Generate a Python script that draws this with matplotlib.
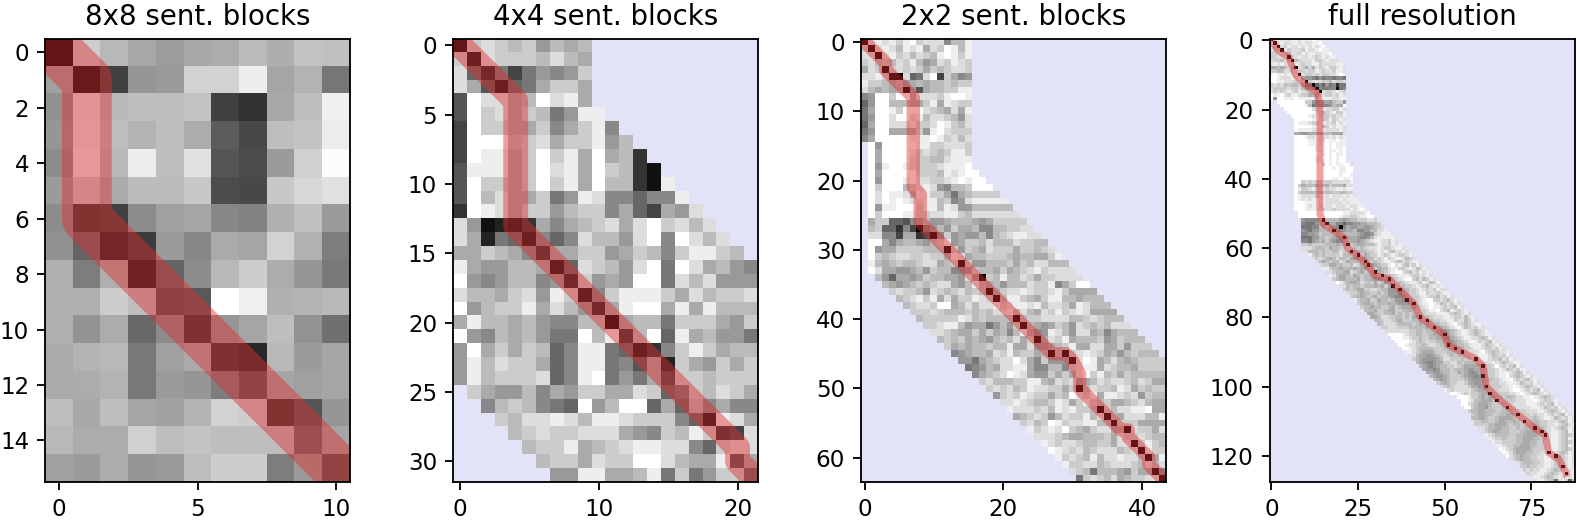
import matplotlib
matplotlib.use("Agg")
import matplotlib.pyplot as plt
import numpy as np

TITLES = ["8x8 sent. blocks", "4x4 sent. blocks", "2x2 sent. blocks", "full resolution"]
XTICKS = [[0, 5, 10], [0, 10, 20], [0, 20, 40], [0, 25, 50, 75]]
YTICKS = [list(range(0, 15, 2)), list(range(0, 31, 5)), list(range(0, 61, 10)), list(range(0, 121, 20))]

# grey level, 0 black .. 255 white
P1 = [
    [0, 205, 184, 168, 156, 168, 172, 187, 174, 196, 192],
    [160, 10, 64, 150, 155, 212, 210, 238, 165, 180, 118],
    [145, 230, 185, 190, 190, 195, 64, 50, 168, 190, 240],
    [150, 232, 190, 180, 190, 172, 92, 72, 190, 196, 236],
    [140, 240, 185, 238, 190, 226, 85, 76, 155, 208, 252],
    [155, 205, 170, 188, 188, 200, 76, 72, 200, 215, 224],
    [140, 55, 64, 140, 160, 165, 135, 130, 176, 192, 155],
    [145, 100, 30, 60, 155, 135, 170, 165, 210, 178, 125],
    [175, 125, 175, 25, 100, 140, 184, 205, 172, 150, 122],
    [176, 176, 205, 190, 80, 90, 255, 240, 176, 180, 184],
    [175, 148, 172, 104, 140, 50, 150, 165, 190, 146, 112],
    [170, 180, 184, 120, 160, 170, 50, 40, 184, 155, 165],
    [170, 172, 180, 120, 155, 150, 125, 85, 165, 160, 165],
    [190, 168, 190, 165, 162, 180, 210, 205, 55, 85, 150],
    [184, 172, 172, 208, 190, 195, 190, 190, 190, 105, 165],
    [160, 155, 172, 150, 155, 190, 205, 205, 125, 155, 85],
]

# darkness per cell in hex, 0 white .. f black, only the cells inside the search band
P2 = [
    "f323436454", "3e23334245", "29d8b86763", "25ae985335", "a022540215", "a0325348611",
    "b03355375317", "b000432533164", "b011530315054c", "a111530215034ce", "a033530315044ce1",
    "a04255386127797 71", "c01253364337 59b562", "26edec575432520 3242", "25d89e7972446207 02426",
    "55345 7c55336534 731134", "156644 5e9234620802 54675", "067644 76d365600824 2666",
    "244532613e731113 524332", "06433152 46d5100515 1444", "51445467744f5448333563",
    "0674546880 41c40915 4668", "60535349711 89ec7313 544", "61423359 7118 7a5d356353",
    "61433329710 8685b334 3333", "356647 5633 5523983 4235", "743478 9064009 59475 7",
    "3422124112 33379e125", "43233222 567 3413cb23", "433154321 12279 3 2", "4335233002 45 5 1a5", "661155418 3863 39",
]
P2_START = [0] * 25 + [1, 2, 3, 4, 5, 6, 7]
P2_STOP = [10, 10, 10, 10, 10, 11, 12, 13, 14, 15, 16, 17, 18, 19, 20, 21] + [22] * 16

P3_START = [0] * 15 + [1] * 19 + list(range(2, 32))
P3_STOP = [16] * 19 + list(range(17, 45)) + [44] * 17
P3 = [
    "f212131032227441", "3e21241215230141", "2232132423410131", "3243423146523123",
    "5234323235343223", "22134229820b3576", "1334546545443433", "24545566a5443311",
    "7600300522231001", "9600444553151233", "8500130002345251", "8600200214223462",
    "9500222133201342", "8600555536102333", "7500000111013242", "0600000113322232",
    "0500001323431132", "0500002334421112", "0610012333211101", "0500000333412100",
    "0600010223321010", "0300043212674430", "0201125113358543", "0201012211437621",
    "0611000311412664", "0300011332211342", "53399a764665444565333", "4399c7b9864635547744332",
    "2277b55cba736566474321122", "0057544564316533424442334410", "0655333344433634523335334321",
    "0343223323351254433345445531", "1454344322543336644435342244",
    "0255665463447763445354321322", "4695565344556264341442353322",
    "45654343225641454644423317530", "3233462343243435322123321355",
    "4321315253312324113453114454", "4322300542422132112142235124",
    "3332344434342214245231321255", "4333331243444454332222443234",
    "3321146558646354565346234342", "2234553535474157612462254754",
    "4343545643425345231544436534", "3545443441552665431552255363",
    "7654452314335474432123546434", "668543220257366642015424543",
    "87645221157744732115234453", "754320125663535203143534",
    "32444331145232654232234235", "3232431223353142334125343",
    "632312335340231511232634", "22123443125313435543245",
    "12223241213345342211055", "5432364233142145222441",
    "324301322114423335", "13212034532255423352",
    "222345544435233234", "1232234433522231345",
    "0123243222432213", "1323414221224451", "1332243222342421",
    "2348444563557", "8323425433221",
]
P3_COLS = [0, 1, 2, 3, 4, 5, 6, 8, 10, 12, 14, 17, 18, 19, 22, 23, 25, 27, 29, 30, 31, 34, 35, 36, 38, 39, 40, 41, 42, 43]
P3_ROWS = [0, 1, 2, 4, 5, 5, 7, 27, 28, 30, 32, 34, 36, 37, 40, 41, 43, 45, 45, 46, 50, 53, 54, 55, 56, 58, 59, 60, 62, 63]

P4_START = [0] * 18 + [2, 3, 4, 5, 6] + [7] * 27 + [8, 8] + [9] * 9 + list(range(10, 51)) + [
    52, 54, 55, 55, 56, 57, 58, 58, 59, 59, 60, 61, 62, 63, 64, 65, 66, 67, 68, 69, 71, 72, 73, 74, 75, 76]
P4_STOP = list(range(14, 23)) + [22] * 27 + [24] * 10 + list(range(25, 88)) + [88] * 19
P4 = [
    # rows 0-17
    "21121211211101", "122122112122110", "2322312212121210", "23331322231221011", "332234223121122110",
    "3322233212212321211", "23342344322213321222", "212122312322113222211", "5545424423535232133212",
    "3344223233233123223112", "1011212232332323322101", "0012221215667868778778", "0011222323332223342332",
    "3232434435888979687c88", "2333323324667878877e87", "2323212312333412332123", "0110231123354532332312",
    "0600111011111311112211",
    # rows 18-35
    "00000000336766564336", "0000000148777764550", "000000002321223312", "00000000234321331", "0000012133323221",
    "000001123313212", "011123321223121", "000001124312112", "011112221222212", "556655564445552",
    "000122122212121", "000011122011011", "000011121010111", "000000111010110", "000000121011010",
    "000000011010110", "000000110010100", "000000111010100",
    # rows 36-51
    "00000000301011002", "00000000000101100", "00000000000001100", "00000000000001001", "00000000000110110",
    "00323233233222221", "03544454453444522", "01332133132211211", "03444445344334433", "01222232121222121",
    "012121121222212111", "0001111212222212111", "00012113122122212211", "000111123223222212101",
    "000000000000011222210", "0000000000001223321100",
    # rows 52-60
    "6777755444456544333223", "78886556557797766554443", "888774535678756655665432", "6786644444676554776644221",
    "77665344445444445677632111", "888664434566555567764211111", "7786545356774455654321122312",
    "33433334445444345544431223121", "222344435443323434322212332112",
    # rows 61-101
    "244434334423344544332121342212", "134343333244344354331232123321", "232345424435655544232132112432",
    "245434423544444434321123423211", "233554433423555654331021342312", "113445444545644354421133212431",
    "223445523453456543210023423121", "124554354344554544321112332212", "345544453445665534321003424312",
    "013455423435346543432112312431", "224344344454535533433212342121", "343455332234466554433212323122",
    "233454433434666754332113223211", "344543453445677653332123342312", "134453354434667653321003323421",
    "345543444545666533211012432312", "344544334534555543210112323412", "444533455334454333211023412321",
    "554334453434344332221112343212", "554223344343554343222112332421", "443223453334454443322113224312",
    "432223444434545444332102343211", "332223334444454455432102432312", "222222233443444566543211234321",
    "000012334433455665432112343211", "000112334334455665432112234312", "000012343233445665432101323412",
    "001223343223445554432111243212", "001234444333444544332112332312", "112345554333444433222102343221",
    "224556654323434333221112432312", "345666654223334332221123342312", "456776553322434443322212343211",
    "456765443323455554433202323412", "566764443444566554433212432311", "556654433545676544332111234312",
    "456654333456676543321102343212", "456543333456665443321102323421", "345433223556654333221112432312",
    "234322223556543333221012343212", "123222223455433322210012323412",
    # rows 102-121
    "00123233455443333221012343212", "0001334545544344322110123432", "0012445554433333222110123321",
    "00234555433343322221112323412", "00345564333443322221112432312", "34455444334443333222112343212",
    "34554433445544333232212323412", "445543345555433333432112432312", "33443345544543334443322234312",
    "33334455543443344543322123421", "2234455443343444544321234312", "234554443334455544321123412",
    "12344443344555543321123432", "1233433344555443321123412", "122333344554433221123432",
    "11233445554433221123412", "0123455554333221123432", "012455544332211234312", "02345443322112343212",
    "2345443322112343212",
    # rows 122-127
    "23444332112343212", "3343322112343212", "323221123432121", "32211234321211", "2112343212121", "211234821393",
]
P4_COLS = [0, 1, 2, 3, 5, 6, 7, 8, 10, 12, 13, 14, 15, 16, 18, 20, 21, 22, 23, 25, 27, 28, 30, 32, 34, 35, 37, 39,
           41, 43, 45, 47, 50, 51, 53, 55, 59, 61, 61, 62, 63, 65, 68, 71, 73, 76, 78, 79, 80, 82, 84, 85]
P4_ROWS = [0, 1, 2, 3, 5, 6, 8, 10, 12, 13, 14, 15, 52, 53, 55, 54, 57, 59, 61, 62, 64, 65, 67, 68, 69, 71, 72, 75,
           76, 80, 81, 83, 85, 88, 89, 90, 92, 94, 97, 100, 102, 104, 106, 108, 110, 112, 113, 114, 119, 120, 123, 125]

P1_PATH_X = [0, 1, 1, 1, 1, 1, 1, 2, 3, 4, 5, 6, 7, 8, 9, 10]
P1_PATH_Y = [0, 1, 2, 3, 4, 5, 6, 7, 8, 9, 10, 11, 12, 13, 14, 15]
P2_PATH_X = [0, 1, 2, 3, 4, 4, 4, 4, 4, 4, 4, 4, 4, 4, 5, 6, 7, 8, 9, 10, 11, 12, 13, 14, 15, 16, 17, 18, 19, 20, 20, 21]
P2_PATH_Y = [0, 1, 2, 3, 4, 5, 6, 7, 8, 9, 10, 11, 12, 13, 14, 15, 16, 17, 18, 19, 20, 21, 22, 23, 24, 25, 26, 27, 28, 29, 30, 31]
P3_PATH_X = [0, 1, 2, 3, 3, 4, 5, 6, 7, 7, 8, 8, 9, 10, 14, 17, 22, 25, 27, 29, 30, 31, 31, 32, 33, 34, 36, 37, 38, 38, 39, 41, 41, 42, 43]
P3_PATH_Y = [0, 1, 2, 3, 4, 5, 6, 7, 8, 21, 22, 26, 27, 28, 32, 35, 40, 43, 45, 45, 46, 48, 50, 51, 52, 53, 55, 56, 56, 57, 58, 60, 61, 62, 63]
P4_PATH_X = [0, 2, 5, 7, 10, 13, 14, 14, 15, 18, 21, 22, 27, 30, 34, 37, 41, 43, 47, 50, 51, 55, 59, 61, 62, 65, 71, 76, 79, 80, 83, 85]
P4_PATH_Y = [0, 3, 5, 10, 13, 15, 18, 50, 53, 55, 57, 60, 64, 68, 69, 72, 76, 80, 83, 85, 88, 90, 92, 94, 100, 103, 108, 112, 114, 119, 121, 125]

LEFT = [45.3, 453.3, 861.3, 1269.7]
WIDTH = 305.0
RED = (0.88, 0.18, 0.18)


def to_grid(rows, starts, stops, ncols):
    grid = np.full((len(rows), ncols), np.nan)
    for r, text in enumerate(rows):
        digits = text.replace(" ", "")
        n = stops[r] - starts[r]
        digits = digits[:n].ljust(n, digits[-1])
        grid[r, starts[r]:stops[r]] = [255 - 17 * int(c, 16) for c in digits]
    return grid


def main():
    fig = plt.figure(figsize=(1578 / 166, 523 / 166), dpi=166)
    g1 = np.array(P1, dtype=float)
    g2 = to_grid(P2, P2_START, P2_STOP, 22)
    g3 = to_grid(P3, P3_START, P3_STOP, 44)
    g4 = to_grid(P4, P4_START, P4_STOP, 88)
    g3[P3_ROWS, P3_COLS] = 0
    g4[P4_ROWS, P4_COLS] = 0
    grids = [g1, g2, g3, g4]
    paths = [(P1_PATH_X, P1_PATH_Y), (P2_PATH_X, P2_PATH_Y), (P3_PATH_X, P3_PATH_Y), (P4_PATH_X, P4_PATH_Y)]
    widths = [21.6, 10.8, 5.8, 3.05]

    for i, grid in enumerate(grids):
        ax = fig.add_axes([LEFT[i] / 1578, 1 - 482 / 523, WIDTH / 1578, (482 - 38.5) / 523])
        ax.set_facecolor("#E3E3F8")
        ax.imshow(np.ma.masked_invalid(grid), cmap="gray", vmin=0, vmax=255, aspect="auto", interpolation="nearest")
        ax.plot(paths[i][0], paths[i][1], color=RED, alpha=0.45, linewidth=widths[i])
        ax.set_xlim(-0.5, grid.shape[1] - 0.5)
        ax.set_ylim(grid.shape[0] - 0.5, -0.5)
        ax.set_xticks(XTICKS[i])
        ax.set_yticks(YTICKS[i])
        ax.set_title(TITLES[i])

    print([g.shape for g in grids])
    fig.savefig("out.png", dpi=166)


if __name__ == "__main__":
    main()
